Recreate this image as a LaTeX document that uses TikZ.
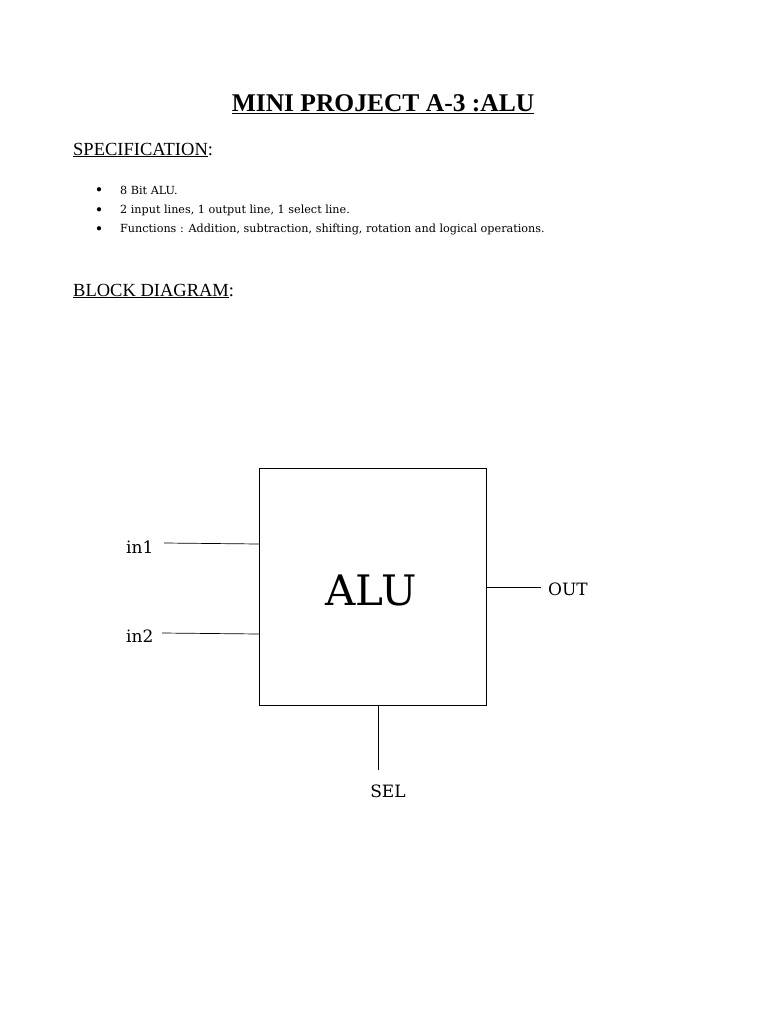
\documentclass[tikz,border=0pt]{standalone}
\usepackage{fontspec}
\setmainfont{Liberation Serif}
\newfontfamily\dvs{DejaVu Serif}
\newcommand{\myul}[1]{\underline{#1}}
\begin{document}
\begin{tikzpicture}[x=1pt,y=-1pt,
  lbl/.style={inner sep=0pt,font=\dvs\fontsize{17}{20}\selectfont},
  wire/.style={line width=0.7pt}]
\useasboundingbox (0,0) rectangle (768,1024);
\node[inner sep=0pt] (title) at (383,104) {\fontsize{25.5}{30}\selectfont\bfseries\myul{MINI PROJECT A-3 :ALU}};
\node[inner sep=0pt,anchor=west] (spec) at (73,150) {\fontsize{18.5}{22}\selectfont\myul{SPECIFICATION}:};
\foreach \y/\t [count=\i] in {190/8 Bit ALU., 210/{2 input lines, 1 output line, 1 select line.}, 229/{Functions : Addition, subtraction, shifting, rotation and logical operations.}}{
  \node[inner sep=0pt] (b\i) at (99,\y) {\fontsize{11}{13}\selectfont$\bullet$};
  \node[inner sep=0pt,anchor=west] (t\i) at (120,\y) {\dvs\fontsize{11.2}{14}\selectfont \t};
}
\node[inner sep=0pt,anchor=west] (bd) at (73,291) {\fontsize{18.5}{22}\selectfont\myul{BLOCK DIAGRAM}:};
\node[draw,line width=0.7pt,minimum width=227pt,minimum height=237pt,inner sep=0pt] (alu) at (372.5,586.5) {};
\node[inner sep=0pt] (alut) at (371,590) {\dvs\fontsize{42}{48}\selectfont ALU};
\node[lbl,anchor=west] (in1) at (126,547) {in1};
\node[lbl,anchor=west] (in2) at (126,636) {in2};
\node[lbl,anchor=west] (out) at (548,589) {OUT};
\node[lbl] (sel) at (388,791) {SEL};
\coordinate (a1) at (164,543); \coordinate (e1) at (259,544);
\coordinate (a2) at (162,633); \coordinate (e2) at (259,634);
\coordinate (o1) at (486,587); \coordinate (o2) at (541,587);
\coordinate (s1) at (378,705); \coordinate (s2) at (378,770);
\draw[wire] (a1) -- (e1);
\draw[wire] (a2) -- (e2);
\draw[wire] (o1) -- (o2);
\draw[wire] (s1) -- (s2);
\end{tikzpicture}
\end{document}
